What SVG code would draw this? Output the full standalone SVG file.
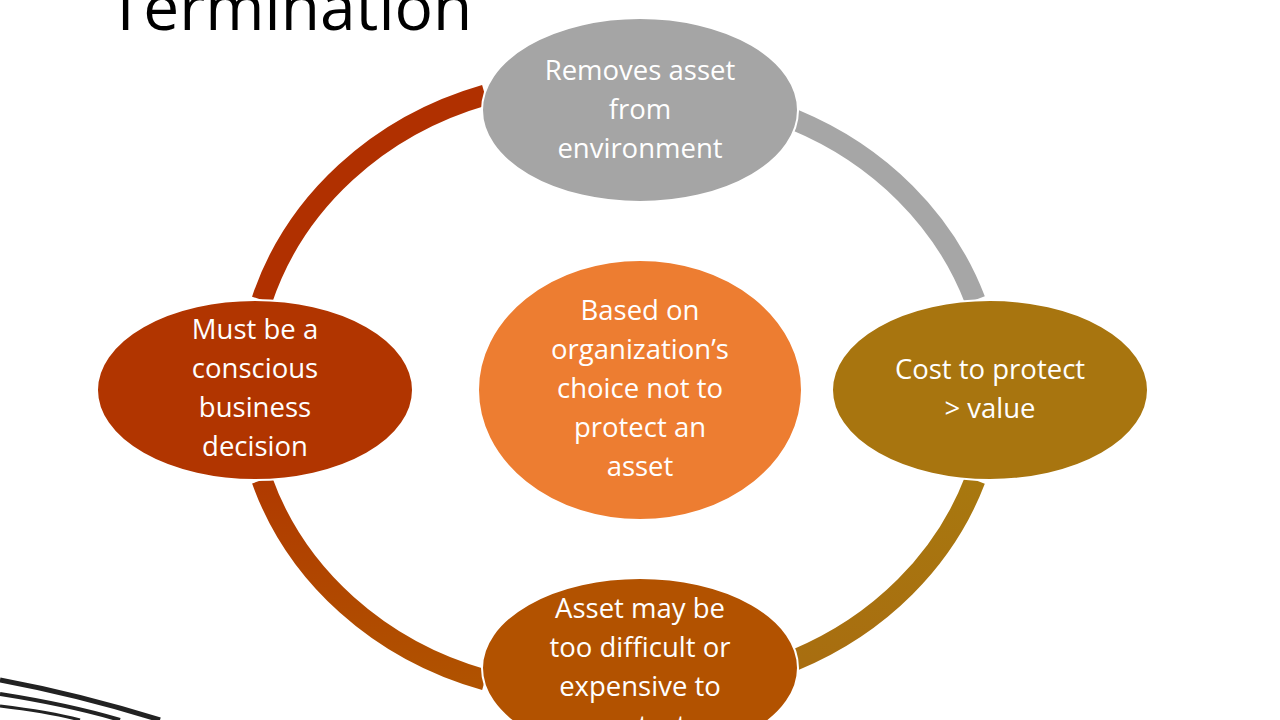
<svg xmlns="http://www.w3.org/2000/svg" width="1280" height="720" viewBox="0 0 1280 720">
<style>
.t{font-family:"Open Sans","DejaVu Sans",sans-serif;font-size:27.5px;fill:#fff;text-anchor:middle}
.n{stroke:#fff;stroke-width:2}
.ring{fill:none;stroke-width:21}
</style>
<defs>
<linearGradient id="gbr" x1="0" y1="0" x2="0" y2="1"><stop offset="0" stop-color="#A8780F"/><stop offset="1" stop-color="#A86E10"/></linearGradient>
<linearGradient id="gbl" x1="0" y1="0" x2="0" y2="1"><stop offset="0" stop-color="#B03A00"/><stop offset="1" stop-color="#B05200"/></linearGradient>
</defs>
<rect width="1280" height="720" fill="#fff"/>
<text x="108" y="30" font-family="Open Sans,DejaVu Sans,sans-serif" font-size="64" fill="#000">Termination</text>
<g id="deco" fill="none" stroke="#222">
<path d="M0 680 Q80 695 160 720" stroke-width="5"/>
<path d="M0 694 Q70 705 120 720" stroke-width="4"/>
<path d="M0 706 Q50 712 80 720" stroke-width="3"/>
</g>
<g id="connectors">
<path class="ring" stroke="#B03000" d="M485 95 A340 310 0 0 0 262 300"/>
<path class="ring" stroke="#A6A6A6" d="M795 120 A340 310 0 0 1 975 300"/>
<path class="ring" stroke="url(#gbr)" d="M975 480 A340 310 0 0 1 795 660"/>
<path class="ring" stroke="url(#gbl)" d="M262 480 A340 310 0 0 0 485 680"/>
</g>
<g id="top"><ellipse class="n" cx="640" cy="110" rx="158" ry="92" fill="#A5A5A5"/>
<text class="t" x="640" y="80">Removes asset</text><text class="t" x="640" y="119">from</text><text class="t" x="640" y="158">environment</text></g>
<g id="left"><ellipse class="n" cx="255" cy="390" rx="158" ry="90" fill="#B13500"/>
<text class="t" x="255" y="339">Must be a</text><text class="t" x="255" y="378">conscious</text><text class="t" x="255" y="417">business</text><text class="t" x="255" y="456">decision</text></g>
<g id="right"><ellipse class="n" cx="990" cy="390" rx="158" ry="90" fill="#A8750F"/>
<text class="t" x="990" y="379">Cost to protect</text><text class="t" x="990" y="418">&gt; value</text></g>
<g id="bottom"><ellipse class="n" cx="640" cy="668" rx="158" ry="90" fill="#B25200"/>
<text class="t" x="640" y="618">Asset may be</text><text class="t" x="640" y="657">too difficult or</text><text class="t" x="640" y="696">expensive to</text><text class="t" x="640" y="735">protect</text></g>
<g id="center"><ellipse class="n" cx="640" cy="390" rx="162" ry="130" fill="#ED7D31"/>
<text class="t" x="640" y="320">Based on</text><text class="t" x="640" y="359">organization’s</text><text class="t" x="640" y="398">choice not to</text><text class="t" x="640" y="437">protect an</text><text class="t" x="640" y="476">asset</text></g>
</svg>
